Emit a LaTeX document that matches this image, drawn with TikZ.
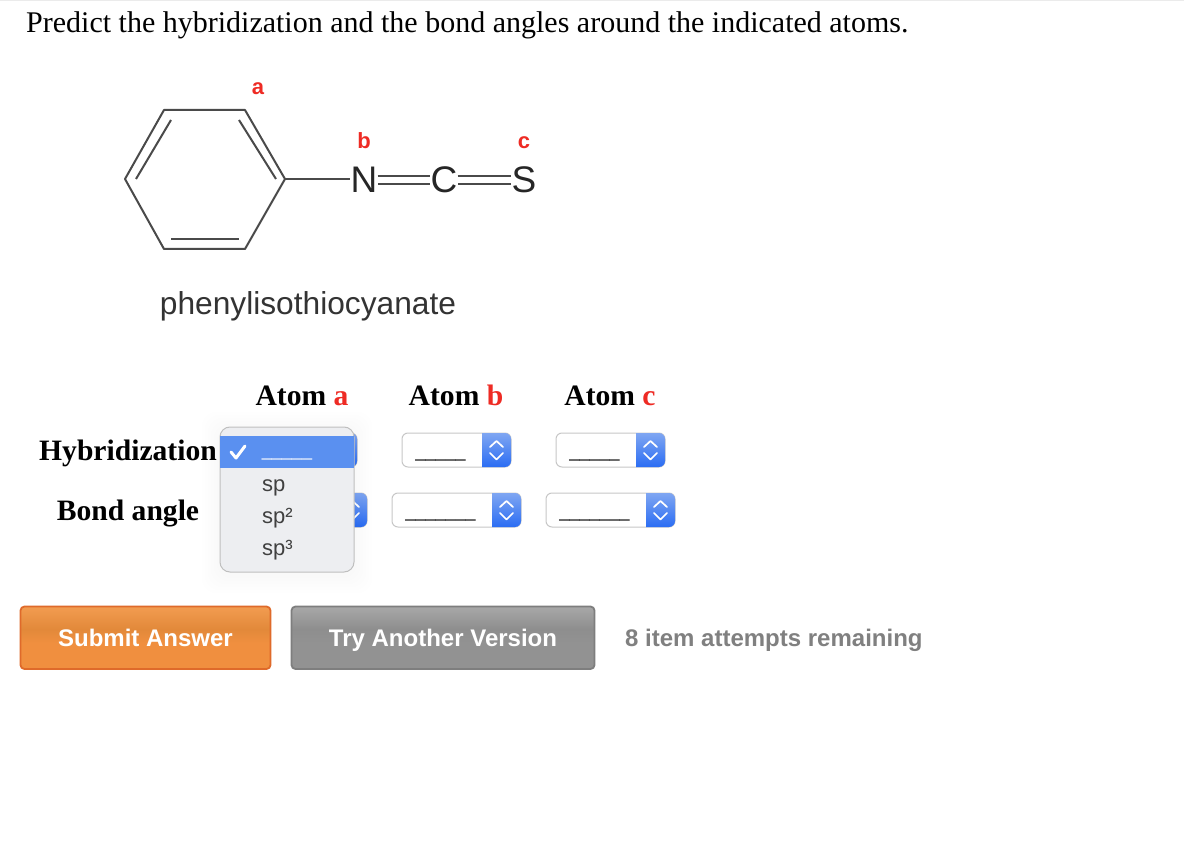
\documentclass[tikz,border=0pt]{standalone}
\usepackage{fontspec}
\setmainfont{Liberation Serif}
\setsansfont{Liberation Sans}
\definecolor{atomred}{HTML}{EE2B24}
\definecolor{bondgray}{HTML}{4A4A4A}
\definecolor{menugray}{HTML}{EDEEF1}
\definecolor{menublue}{HTML}{5A90F0}
\definecolor{selecttop}{HTML}{7FA6F2}
\definecolor{selectbottom}{HTML}{2B6DF3}
\definecolor{btnorange}{HTML}{DF6A2A}
\definecolor{btngray}{HTML}{7E7E7E}
\definecolor{orangea}{HTML}{F08F3F}
\definecolor{orangeb}{HTML}{E2893A}
\definecolor{orangec}{HTML}{F29C50}
\definecolor{graya}{HTML}{929292}
\definecolor{grayb}{HTML}{8E8E8E}
\definecolor{grayc}{HTML}{A8A8A8}
\pgfdeclareverticalshading{submitfill}{100bp}{color(0bp)=(orangea);color(25bp)=(orangea);color(46bp)=(orangea);color(57bp)=(orangeb);color(75bp)=(orangec);color(100bp)=(orangec)}
\pgfdeclareverticalshading{tryfill}{100bp}{color(0bp)=(graya);color(25bp)=(graya);color(46bp)=(graya);color(57bp)=(grayb);color(75bp)=(grayc);color(100bp)=(grayc)}
\tikzset{
    bond/.style={draw=bondgray, line width=2pt},
    doublebond/.style={draw=bondgray, double=white, line width=1.7pt, double distance=6.5pt},
    atomlabel/.style={font=\sffamily\fontsize{37}{37}\selectfont, text=black!85, inner sep=0pt},
    redlabel/.style={font=\sffamily\bfseries\fontsize{22}{22}\selectfont, text=atomred, inner sep=0pt},
    headlabel/.style={font=\bfseries\fontsize{29.6}{29.6}\selectfont, inner sep=0pt, anchor=base},
    selectframe/.style={draw=black!22, fill=white, line width=1pt},
    chevron/.style={draw=white, line width=1.7pt, line cap=round, line join=round},
    blank/.style={font=\sffamily\fontsize{18}{18}\selectfont, inner sep=0pt, anchor=base},
    menuitem/.style={font=\sffamily\fontsize{22}{22}\selectfont, text=black!75, inner sep=0pt, anchor=base west},
    btnlabel/.style={font=\sffamily\bfseries\fontsize{24}{24}\selectfont, text=white, inner sep=0pt, anchor=base}
}
% name, left, start of blue part, right, top, underscores
\newcommand{\selectbox}[6]{
    \draw[selectframe, rounded corners=6] (#2,#5) rectangle (#4,#5+34);
    \shade[top color=selecttop, bottom color=selectbottom]
        (#3,#5) [rounded corners=6] -- (#4,#5) -- (#4,#5+34) [sharp corners] -- (#3,#5+34) -- cycle;
    \draw[chevron] (#3+8,#5+14) -- (#3+14.5,#5+8) -- (#3+21,#5+14);
    \draw[chevron] (#3+8,#5+20) -- (#3+14.5,#5+26.5) -- (#3+21,#5+20);
    \node[blank] (#1) at ({(#2+#3)/2-1.5},#5+24) {#6};
}
\begin{document}
\begin{tikzpicture}[x=1pt, y=-1pt]
        \useasboundingbox (0,0) rectangle (1184,842);
        \fill[white] (0,0) rectangle (1184,842);
        \fill[black!8] (0,0) rectangle (1184,1.5);
        \node[anchor=base west, inner sep=0pt, font=\fontsize{30}{30}\selectfont] (question) at (26,33) {Predict the hybridization and the bond angles around the indicated atoms.};

        % molecule
        \begin{scope}
            \coordinate (r1) at (164,110);
            \coordinate (r2) at (245,110);
            \coordinate (r3) at (285,179);
            \coordinate (r4) at (245,249);
            \coordinate (r5) at (164,249);
            \coordinate (r6) at (125,179);
            \draw[bond, line join=round] (r1) -- (r2) -- (r3) -- (r4) -- (r5) -- (r6) -- cycle;
            \draw[bond] (171,120) -- (136,179);
            \draw[bond] (239,120) -- (276,179);
            \draw[bond] (171,239) -- (239,239);
            \node[atomlabel] (nitrogen) at (364,180) {N};
            \node[atomlabel] (carbon) at (444,180) {C};
            \node[atomlabel] (sulfur) at (524,180) {S};
            \draw[bond] (r3) -- (r3 -| nitrogen.west);
            \draw[doublebond] (nitrogen) -- (carbon);
            \draw[doublebond] (carbon) -- (sulfur);
            \node[redlabel] (labela) at (258,89) {a};
            \node[redlabel] (labelb) at (364,141) {b};
            \node[redlabel] (labelc) at (524,143) {c};
            \node[font=\sffamily\fontsize{31.7}{31.7}\selectfont, text=black!80, inner sep=0pt] (molname) at (308,306.5) {phenylisothiocyanate};
        \end{scope}

        % table heads
        \node[headlabel] (heada) at (302,406) {Atom \textcolor{atomred}{a}};
        \node[headlabel] (headb) at (456,406) {Atom \textcolor{atomred}{b}};
        \node[headlabel] (headc) at (610,406) {Atom \textcolor{atomred}{c}};
        \node[headlabel] (hybrid) at (128,460) {Hybridization};
        \node[headlabel] (angle) at (128,520) {Bond angle};

        % selects
        \selectbox{hybb}{402}{482}{511}{433}{\_\_\_\_\_}
        \selectbox{hybc}{556}{636}{665}{433}{\_\_\_\_\_}
        \selectbox{angb}{392}{492}{521}{493}{\_\_\_\_\_\_\_}
        \selectbox{angc}{546}{646}{675}{493}{\_\_\_\_\_\_\_}
        \selectbox{anga}{230}{338}{367}{493}{}
        \selectbox{hyba}{230}{328}{357}{433}{}

        % open menu
        \begin{scope}
            \foreach \grow in {3,6,...,18}
                \fill[black, opacity=0.005, rounded corners=14] (220-\grow,427-\grow+3) rectangle (354+\grow,572+\grow+3);
            \path[fill=menugray, draw=black!25, line width=1pt, rounded corners=10] (220,427) rectangle (354,572);
            \fill[menublue] (220,436) rectangle (354,468);
            \draw[draw=white, line width=3pt, line cap=round, line join=round] (231,452) -- (236,458) -- (245,446);
            \node[blank, text=white] (menublank) at (287,456) {\_\_\_\_\_};
            \node[menuitem] (menusp) at (262,491) {sp};
            \node[menuitem] (menusptwo) at (262,523) {sp²};
            \node[menuitem] (menuspthree) at (262,555) {sp³};
        \end{scope}

        % buttons
        \path[shading=submitfill, draw=btnorange, line width=1.8pt, rounded corners=4] (20.5,606.5) rectangle (270.5,669);
        \path[shading=tryfill, draw=btngray, line width=1.8pt, rounded corners=4] (291.5,606.5) rectangle (594.5,669);
        \node[btnlabel] (submit) at (145.5,646) {Submit Answer};
        \node[btnlabel] (try) at (443,646) {Try Another Version};
        \node[btnlabel, text=black!50, anchor=base west] (attempts) at (625,646) {8 item attempts remaining};
    \end{tikzpicture}
\end{document}
